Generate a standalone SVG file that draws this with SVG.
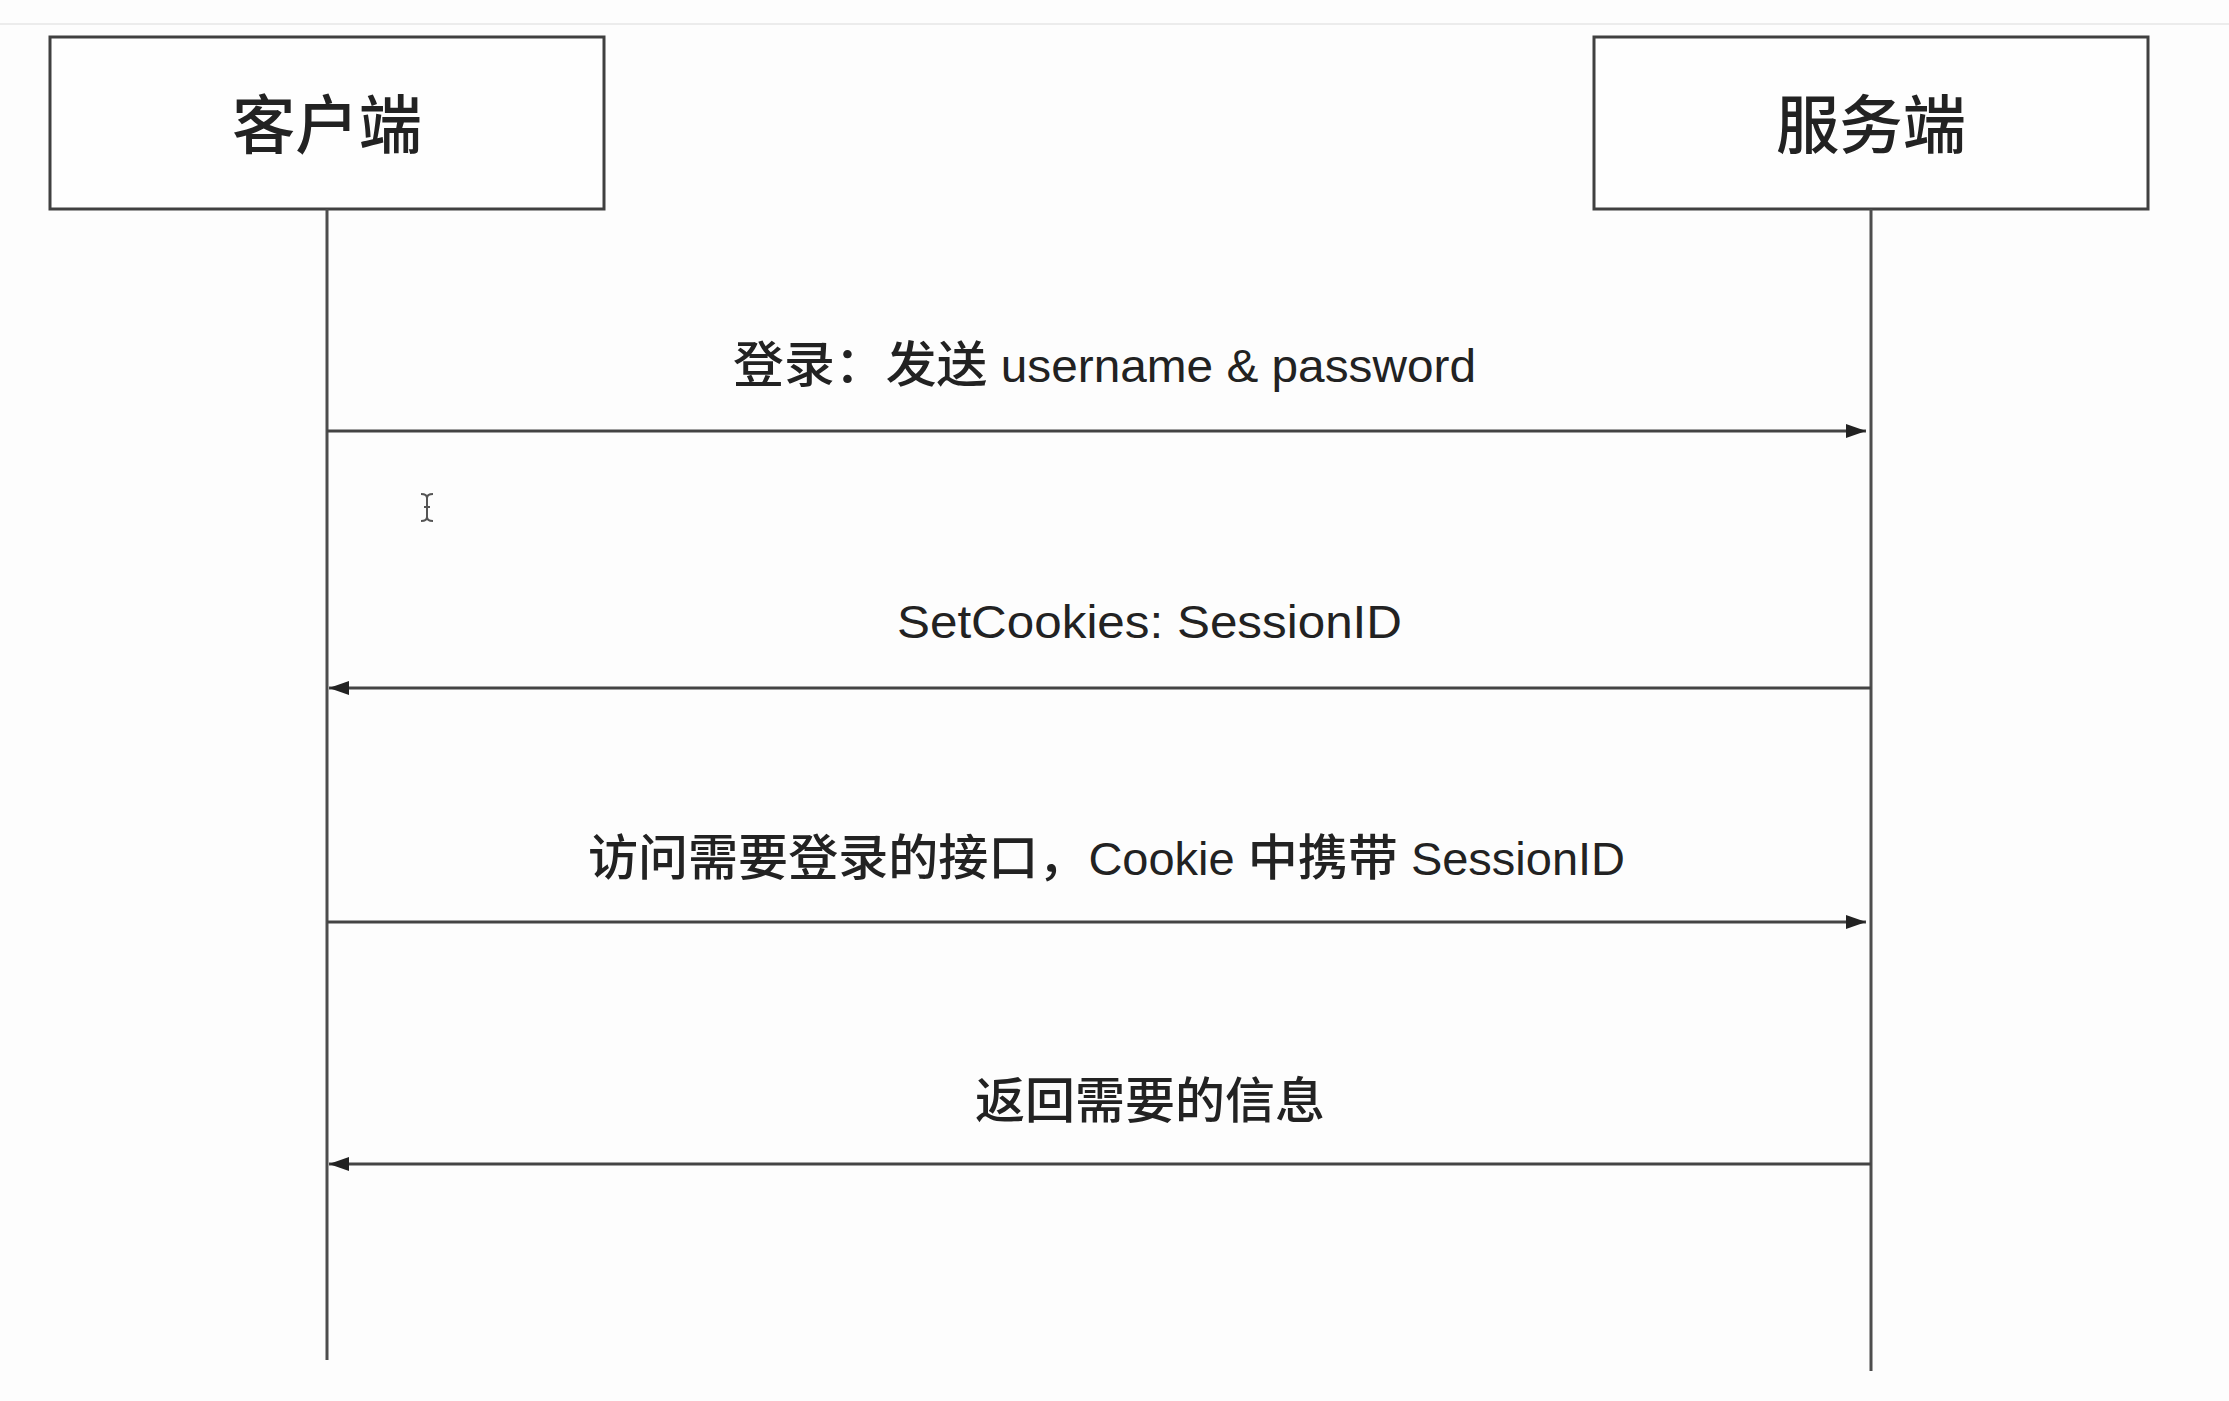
<svg xmlns="http://www.w3.org/2000/svg" width="2229" height="1401" viewBox="0 0 2229 1401">
<style>
.box{fill:#fefefe;stroke:#404040;stroke-width:3}
.life{stroke:#4d4d4d;stroke-width:3;fill:none}
.msg{stroke:#444;stroke-width:3;fill:none}
.title{font-family:"Liberation Sans","Noto Sans CJK SC",sans-serif;font-size:64px;font-weight:500;fill:#222}
.lbl{font-family:"Liberation Sans","Noto Sans CJK SC",sans-serif;font-size:46px;fill:#222}
.cjk{font-family:"Noto Sans CJK SC",sans-serif;font-size:49px;font-weight:500}
</style>
<defs>
<marker id="ah" markerUnits="userSpaceOnUse" markerWidth="22" markerHeight="16" refX="20" refY="7" orient="auto">
<path d="M0,0 L20,7 L0,14 Z" fill="#222"/>
</marker>
</defs>
<rect x="0" y="0" width="2229" height="1401" fill="#fdfdfd"/>
<line x1="0" y1="24" x2="2229" y2="24" stroke="#ececec" stroke-width="2"/>

<g id="client">
<rect class="box" x="50" y="37" width="554" height="172"/>
<text class="title" x="327" y="148" text-anchor="middle" textLength="190" lengthAdjust="spacingAndGlyphs">客户端</text>
</g>
<g id="server">
<rect class="box" x="1594" y="37" width="554" height="172"/>
<text class="title" x="1871" y="148" text-anchor="middle" textLength="190" lengthAdjust="spacingAndGlyphs">服务端</text>
</g>

<g id="connectors">
<line class="life" x1="327" y1="209" x2="327" y2="1360"/>
<line class="life" x1="1871" y1="209" x2="1871" y2="1371"/>
<line class="msg" x1="327" y1="431" x2="1866" y2="431" marker-end="url(#ah)"/>
<line class="msg" x1="1871" y1="688" x2="329" y2="688" marker-end="url(#ah)"/>
<line class="msg" x1="327" y1="922" x2="1866" y2="922" marker-end="url(#ah)"/>
<line class="msg" x1="1871" y1="1164" x2="329" y2="1164" marker-end="url(#ah)"/>
</g>

<g id="labels">
<text class="lbl" x="733" y="382" textLength="743" lengthAdjust="spacingAndGlyphs"><tspan class="cjk">登录：发送</tspan> username &amp; password</text>
<text class="lbl" x="897" y="638" textLength="505" lengthAdjust="spacingAndGlyphs">SetCookies: SessionID</text>
<text class="lbl" x="588" y="875" textLength="1037" lengthAdjust="spacingAndGlyphs"><tspan class="cjk">访问需要登录的接口，</tspan>Cookie <tspan class="cjk">中携带</tspan> SessionID</text>
<text class="lbl" x="975" y="1118" textLength="350" lengthAdjust="spacingAndGlyphs"><tspan class="cjk">返回需要的信息</tspan></text>
</g>

<g id="cursor">
<path d="M421,494 Q427,494 427,498 Q427,494 433,494 M427,498 L427,517 M421,521 Q427,521 427,517 Q427,521 433,521 M424,507 L430,507" stroke="#555" stroke-width="2" fill="none"/>
</g>
</svg>
